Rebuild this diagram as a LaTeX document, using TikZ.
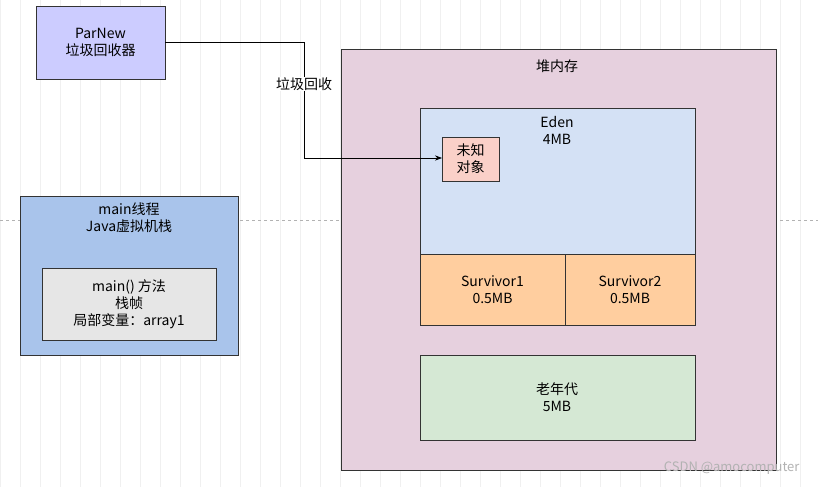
\documentclass[tikz,border=0pt]{standalone}
\usepackage{fontspec}
\setmainfont{Noto Sans CJK SC}
\usetikzlibrary{arrows.meta}
\begin{document}
\begin{tikzpicture}[x=1pt,y=-1pt,
  box/.style={draw=black!80,line width=0.8pt,align=center,anchor=north west,inner sep=0pt},
  lbl/.style={font=\fontsize{14}{17}\selectfont,align=center}]
\useasboundingbox (0,0) rectangle (818,487);
\fill[white] (0,0) rectangle (818,487);
\draw[black!6] (0,0) grid[step=20] (818,487);
\draw[black!30,dashed] (0,220) -- (818,220);
% ParNew
\draw[box,fill={rgb,255:red,204;green,204;blue,255}] (36,6) rectangle (165,79);
\node[lbl] (parnew) at (100.5,42.5) {ParNew\\垃圾回收器};
\coordinate (pn) at (165,42);
% heap
\draw[box,fill={rgb,255:red,230;green,208;blue,222}] (341,49) rectangle (776,470);
\node[lbl] (heap) at (557,66) {堆内存};
\draw[box,fill={rgb,255:red,212;green,225;blue,245}] (420,108) rectangle (695,254);
\node[lbl] (eden) at (557,130) {Eden\\4MB};
\draw[box,fill={rgb,255:red,255;green,206;blue,159}] (420,254) rectangle (565,325);
\node[lbl] (s1) at (492.5,289.5) {Survivor1\\0.5MB};
\draw[box,fill={rgb,255:red,255;green,206;blue,159}] (565,254) rectangle (695,325);
\node[lbl] (s2) at (630,289.5) {Survivor2\\0.5MB};
\draw[box,fill={rgb,255:red,213;green,232;blue,212}] (420,355) rectangle (695,440);
\node[lbl] (old) at (557,397.5) {老年代\\5MB};
\draw[box,fill={rgb,255:red,250;green,208;blue,200}] (442,137) rectangle (499,181);
\node[lbl] (obj) at (470.5,159) {未知\\对象};
\coordinate (objw) at (442,158);
% main thread
\draw[box,fill={rgb,255:red,169;green,196;blue,235}] (20,196) rectangle (238,355);
\node[lbl] (main) at (129,218) {main线程\\Java虚拟机栈};
\draw[box,fill={rgb,255:red,230;green,230;blue,230}] (42,268) rectangle (216,340);
\node[lbl] (frame) at (129,304) {main() 方法\\栈帧\\局部变量：array1};
% arrow
\draw[line width=0.8pt,-{Stealth[length=7pt]}] (pn) -- (304,42) -- (304,158) -- (objw);
\node[lbl,fill=white,inner sep=1pt] (gc) at (304,84) {垃圾回收};
\node[text=black!30,font=\fontsize{13}{15}\selectfont,anchor=south east] (wm) at (803,478) {CSDN @amocomputer};
\end{tikzpicture}
\end{document}
